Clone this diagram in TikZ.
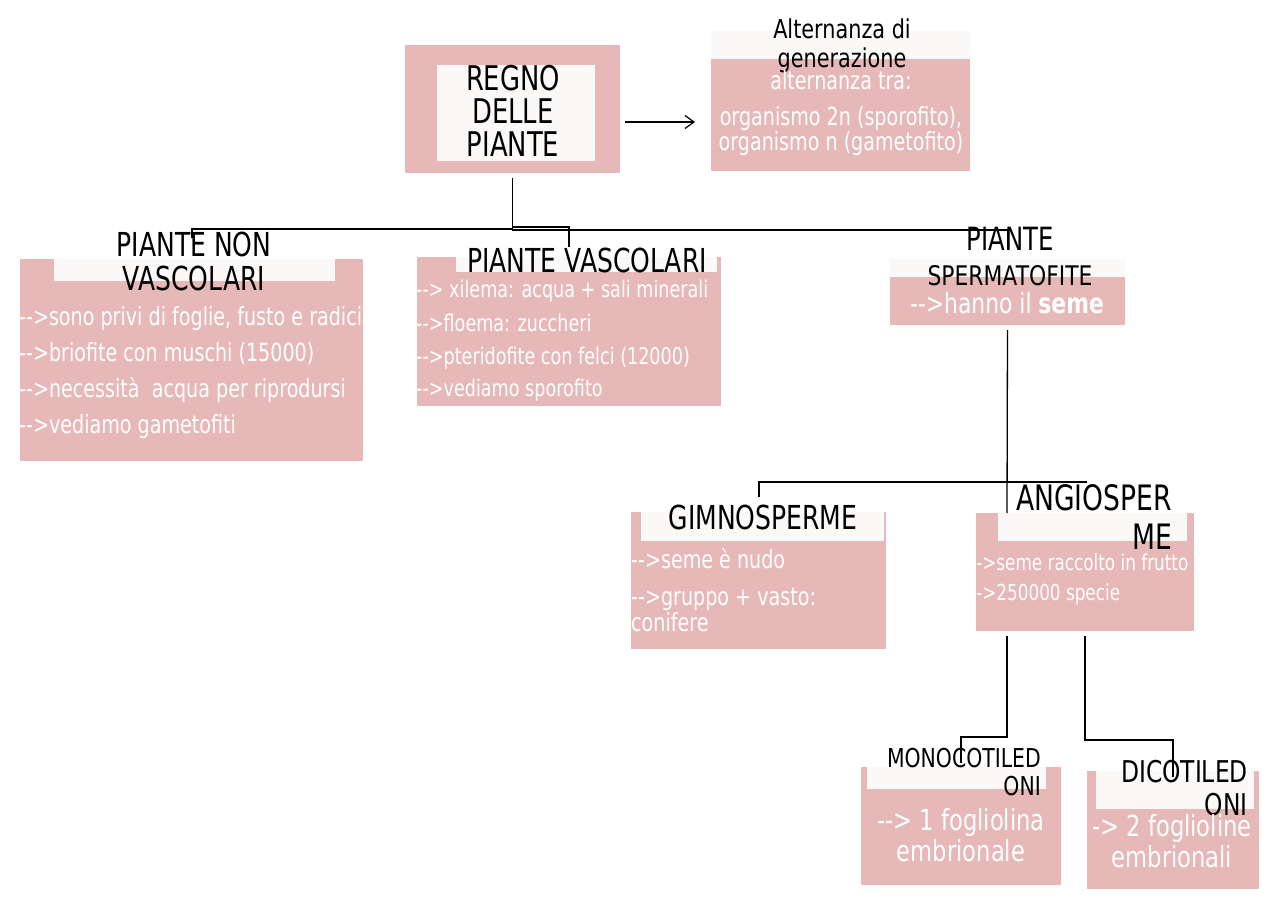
\documentclass[tikz,border=0pt]{standalone}
\usepackage{fontspec}
\setmainfont{DejaVu Sans}
\newfontfamily\ttlf{DejaVu Sans}[FakeStretch=0.76]
\newfontfamily\bodyf{DejaVu Sans}[FakeStretch=0.765]
\usetikzlibrary{arrows.meta}
\definecolor{pk}{HTML}{E6B8B7}
\definecolor{wb}{HTML}{FBF9F7}
\newcommand{\fs}[1]{\fontsize{#1pt}{#1pt}\selectfont}
\begin{document}
\begin{tikzpicture}[x=1pt,y=-1pt,
  pinkbox/.style={fill=pk,draw=none,inner sep=0,outer sep=0,anchor=north west},
  whitebar/.style={fill=wb,draw=none,inner sep=0,outer sep=0,anchor=north west},
  ttl/.style={inner sep=0,anchor=base,text=black},
  ttlr/.style={inner sep=0,anchor=base east,text=black},
  bdy/.style={inner sep=0,anchor=base west,text=white},
  bdyc/.style={inner sep=0,anchor=base,text=white},
  conn/.style={draw=black,line width=1.3pt},
  ]
\useasboundingbox[fill=white] (0,0) rectangle (1280,905);

% ---- boxes
\node[pinkbox,minimum width=215pt,minimum height=128pt] (regno) at (405,45) {};
\node[whitebar,minimum width=158pt,minimum height=96pt] (regnoin) at (437,65) {};

\node[whitebar,minimum width=259pt,minimum height=28pt] (altbar) at (711,31) {};
\node[pinkbox,minimum width=259pt,minimum height=112pt] (alt) at (711,59) {};

\node[pinkbox,minimum width=343pt,minimum height=202pt] (nv) at (20,259) {};
\node[whitebar,minimum width=281pt,minimum height=22pt] (nvbar) at (54,259) {};

\node[pinkbox,minimum width=304pt,minimum height=149pt] (v) at (417,257) {};
\node[whitebar,minimum width=261pt,minimum height=15pt] (vbar) at (456,257) {};

\node[whitebar,minimum width=235pt,minimum height=18pt] (spbar) at (890,259) {};
\node[pinkbox,minimum width=235pt,minimum height=48pt] (sp) at (890,277) {};

\node[pinkbox,minimum width=255pt,minimum height=137pt] (gi) at (631,512) {};
\node[whitebar,minimum width=243pt,minimum height=29pt] (gibar) at (641,512) {};

\node[pinkbox,minimum width=218pt,minimum height=118pt] (an) at (976,513) {};
\node[whitebar,minimum width=189pt,minimum height=28pt] (anbar) at (998,513) {};

\node[pinkbox,minimum width=200pt,minimum height=118pt] (mo) at (861,767) {};
\node[whitebar,minimum width=179pt,minimum height=22pt] (mobar) at (867,767) {};

\node[pinkbox,minimum width=172pt,minimum height=118pt] (di) at (1087,771) {};
\node[whitebar,minimum width=158pt,minimum height=38pt] (dibar) at (1096,771) {};

% ---- connector end points
\coordinate (nvin) at (192,238);
\coordinate (vin) at (569,247);
\coordinate (spin) at (1008,250);
\coordinate (giin) at (759,497);
\coordinate (anin) at (1007,513);
\coordinate (anin2) at (1087,482);
\coordinate (moin) at (961,763);
\coordinate (diin) at (1173,777);

% ---- connectors
\draw[conn] ([yshift=-5pt]regno.south) |- ([yshift=-229pt]nvin |- 0,0) -- (nvin);
\draw[conn] ([yshift=-5pt]regno.south) |- ([yshift=-227pt]vin |- 0,0) -- (vin);
\draw[conn] ([yshift=-5pt]regno.south) |- ([yshift=-230pt]spin |- 0,0) -- (spin);
\draw[conn] ([yshift=-5pt]sp.south) |- ([yshift=-482pt]giin |- 0,0) -- (giin);
\draw[conn] ([yshift=-5pt]sp.south) -- (anin);
\draw[conn] (anin |- anin2) -- (anin2);
\draw[conn] ([xshift=31pt,yshift=-5pt]an.south west) |- ([yshift=-737pt]moin |- 0,0) -- (moin);
\draw[conn] ([xshift=109pt,yshift=-5pt]an.south west) |- ([yshift=-740pt]diin |- 0,0) -- (diin);
\draw[conn,line width=1.2pt,-{Straight Barb[length=9pt,width=13pt]}]
  ([xshift=5pt,yshift=-13pt]regno.east) -- ([xshift=-16pt,yshift=-13pt]regno.east -| alt.west);

% ---- texts
\node[ttl,font=\ttlf\fs{34}] (r1) at (513,90) {REGNO};
\node[ttl,font=\ttlf\fs{34}] (r2) at (513,123) {DELLE};
\node[ttl,font=\ttlf\fs{34}] (r3) at (513,156) {PIANTE};

\node[ttl,font=\ttlf\fs{26}] (a1) at (842,38) {\addfontfeature{FakeStretch=0.8}Alternanza di};
\node[ttl,font=\ttlf\fs{26}] (a2) at (842,67) {\addfontfeature{FakeStretch=0.8}generazione};
\node[bdyc,font=\bodyf\fs{25}] (a3) at (841,89) {alternanza tra:};
\node[bdyc,font=\bodyf\fs{25}] (a4) at (841,125) {organismo 2n (sporofito),};
\node[bdyc,font=\bodyf\fs{25}] (a5) at (841,150) {organismo n (gametofito)};

\node[ttl,font=\ttlf\fs{33}] (n1) at (194,256) {PIANTE NON};
\node[ttl,font=\ttlf\fs{33}] (n2) at (194,290) {VASCOLARI};
\node[bdy,font=\bodyf\fs{25}] (n3) at (19,325) {-{}->sono privi di foglie, fusto e radici};
\node[bdy,font=\bodyf\fs{25}] (n4) at (19,361) {-{}->briofite con muschi (15000)};
\node[bdy,font=\bodyf\fs{25}] (n5) at (19,397) {-{}->necessità\ \ acqua per riprodursi};
\node[bdy,font=\bodyf\fs{25}] (n6) at (19,433) {-{}->vediamo gametofiti};

\node[ttl,font=\ttlf\fs{33}] (v1) at (587,272) {PIANTE VASCOLARI};
\node[bdy,font=\bodyf\fs{23}] (v2) at (416,297) {-{}-> xilema: acqua + sali minerali};
\node[bdy,font=\bodyf\fs{23}] (v3) at (416,331) {-{}->floema: zuccheri};
\node[bdy,font=\bodyf\fs{23}] (v4) at (416,364) {-{}->pteridofite con felci (12000)};
\node[bdy,font=\bodyf\fs{23}] (v5) at (416,396) {-{}->vediamo sporofito};

\node[ttl,font=\ttlf\fs{32}] (s1) at (1010,250) {PIANTE};
\node[ttl,font=\ttlf\fs{27}] (s2) at (1010,285) {\addfontfeature{FakeStretch=0.81}SPERMATOFITE};
\node[bdyc,font=\bodyf\fs{28}] (s3) at (1007,313) {\addfontfeature{FakeStretch=0.78}-{}->hanno il \textbf{seme}};

\node[ttl,font=\ttlf\fs{33}] (g1) at (763,529) {GIMNOSPERME};
\node[bdy,font=\bodyf\fs{25}] (g2) at (631,568) {-{}->seme è nudo};
\node[bdy,font=\bodyf\fs{25}] (g3) at (631,605) {-{}->gruppo + vasto:};
\node[bdy,font=\bodyf\fs{25}] (g4) at (631,631) {conifere};

\node[ttlr,font=\ttlf\fs{35}] (an1) at (1172,510) {ANGIOSPER};
\node[ttlr,font=\ttlf\fs{35}] (an2) at (1172,549) {ME};
\node[bdy,font=\bodyf\fs{22}] (an3) at (970,570) {-{}->seme raccolto in frutto};
\node[bdy,font=\bodyf\fs{22}] (an4) at (970,600) {-{}->250000 specie};

\node[ttlr,font=\ttlf\fs{26}] (m1) at (1041,767) {\addfontfeature{FakeStretch=0.785}MONOCOTILED};
\node[ttlr,font=\ttlf\fs{26}] (m2) at (1041,795) {\addfontfeature{FakeStretch=0.785}ONI};
\node[bdyc,font=\bodyf\fs{29}] (m3) at (961,830) {\addfontfeature{FakeStretch=0.78}-{}-> 1 fogliolina};
\node[bdyc,font=\bodyf\fs{29}] (m4) at (961,861) {\addfontfeature{FakeStretch=0.78}embrionale};

\node[ttlr,font=\ttlf\fs{30}] (d1) at (1248,782) {\addfontfeature{FakeStretch=0.78}DICOTILED};
\node[ttlr,font=\ttlf\fs{30}] (d2) at (1248,815) {\addfontfeature{FakeStretch=0.78}ONI};
\node[bdyc,font=\bodyf\fs{29}] (d3) at (1172,836) {\addfontfeature{FakeStretch=0.78}-> 2 foglioline};
\node[bdyc,font=\bodyf\fs{29}] (d4) at (1172,867) {\addfontfeature{FakeStretch=0.78}embrionali};
\end{tikzpicture}
\end{document}
